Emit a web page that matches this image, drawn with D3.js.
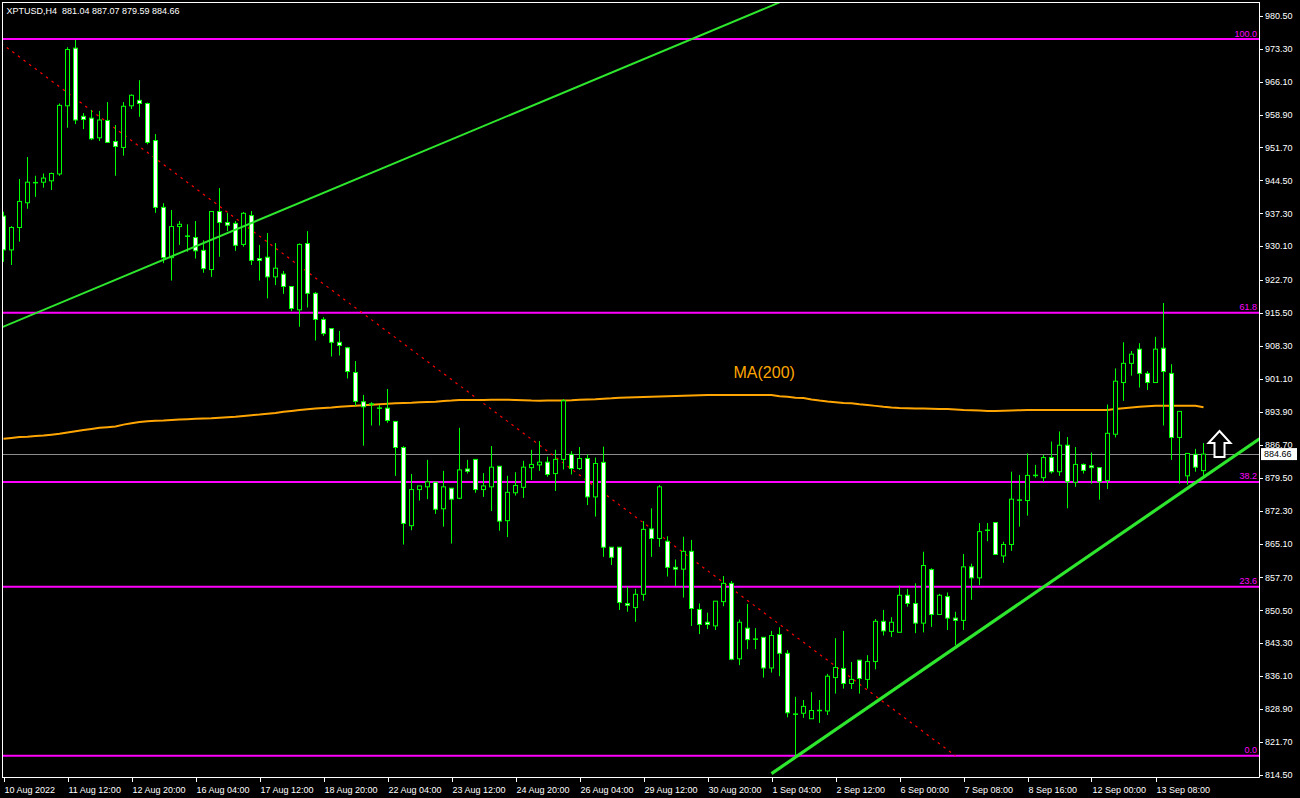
<!DOCTYPE html>
<html><head><meta charset="utf-8">
<script src="https://cdn.jsdelivr.net/npm/d3@7"></script>
<style>
html,body{margin:0;padding:0;background:#000;overflow:hidden}
svg{display:block}
text{font-family:"Liberation Sans",Arial,sans-serif}
</style>
</head><body>
<svg id="c" width="1300" height="798"></svg>
<script>
// ---------- data ----------
const symbolTitle = "XPTUSD,H4";
const lastBar = {open: 881.04, high: 887.07, low: 879.59, close: 884.66};

const opens = [936.7,929.3,934.2,939.6,944.0,944.1,944.4,945.9,960.8,973.4,
958.5,958.1,953.8,957.6,953.0,951.7,960.8,962.0,961.3,953.2,
938.6,927.6,934.4,932.3,932.0,929.2,925.0,937.7,935.3,935.1,
930.5,936.8,927.4,927.7,923.4,924.0,921.3,916.2,930.7,919.8,
914.1,912.1,909.1,907.9,902.5,896.1,895.6,894.7,894.7,891.8,
886.1,869.0,876.9,877.5,878.5,872.7,877.2,875.0,881.4,883.5,
876.9,877.5,882.0,870.1,876.2,877.4,881.7,882.3,882.9,880.4,
883.5,884.6,881.5,883.7,875.3,882.85,864.3,864.3,852.0,851.1,
854.0,868.3,866.2,865.6,859.9,859.5,863.4,850.7,847.9,847.1,
852.4,856.4,839.9,846.6,844.2,844.6,837.9,845.2,841.1,827.8,
828.0,826.8,828.6,828.5,835.8,837.8,834.5,839.6,835.4,839.3,
848.1,845.9,845.7,853.8,852.0,847.7,859.4,849.6,853.5,848.8,
848.3,860.0,857.6,868.0,869.7,862.4,864.9,874.6,874.5,880.0,
879.5,883.9,880.8,886.6,878.5,882.4,882.1,881.7,878.9,889.0,
900.3,904.5,907.6,902.3,900.3,907.8,902.3,888.3,879.9,884.6,
881.04];
const highs = [937.65,934.5,944.8,949.6,945.5,946.0,946.2,961.3,973.6,975.2,
959.2,959.9,959.7,961.6,956.6,961.6,963.3,966.4,961.5,954.6,
939.5,938.0,935.6,934.9,935.6,931.4,937.8,942.8,937.4,935.6,
937.6,937.8,930.4,933.0,930.8,924.7,921.3,930.7,933.4,920.1,
914.6,912.1,911.6,908.1,905.0,897.6,896.0,895.4,898.9,891.8,
886.4,880.3,877.7,883.4,878.6,881.0,877.2,890.4,883.4,883.5,
880.5,886.4,882.0,879.9,880.7,883.2,885.6,887.5,884.1,885.6,
896.7,885.3,886.2,884.6,883.9,886.3,864.3,864.3,855.7,855.2,
870.0,872.8,877.9,866.7,861.6,866.6,865.9,852.0,850.0,852.5,
858.0,856.9,848.5,851.9,846.6,844.6,846.0,846.8,841.8,831.6,
830.9,832.6,830.9,836.6,844.4,846.0,839.2,839.6,840.7,848.6,
850.6,849.0,855.9,855.2,856.4,863.3,859.7,854.1,854.4,850.2,
862.8,860.7,869.6,869.6,869.7,865.5,880.8,880.1,884.8,882.3,
884.5,887.4,889.6,888.4,886.2,882.6,885.0,881.7,895.5,903.4,
909.1,907.2,908.9,902.8,910.3,917.7,904.3,894.0,884.8,885.8,
887.07];
const lows = [926.7,926.0,931.1,938.3,940.9,942.9,942.4,945.5,956.0,956.8,
955.7,953.3,953.1,952.7,945.5,949.9,960.1,958.4,952.4,937.4,
926.4,922.6,930.4,928.9,927.4,924.3,923.4,927.8,933.4,929.1,
930.0,926.0,922.6,918.7,921.6,919.7,915.9,912.5,916.7,909.5,
910.5,906.0,906.2,901.2,895.2,886.5,890.9,890.9,891.5,879.9,
864.9,868.0,874.5,874.8,871.6,868.8,865.1,874.8,880.4,876.2,
875.3,872.2,867.9,866.5,875.6,875.1,879.0,881.0,879.7,876.6,
881.3,880.2,881.2,873.5,871.0,862.2,860.4,850.6,850.2,848.0,
852.6,862.2,864.4,857.9,855.8,853.3,847.1,845.3,846.4,846.2,
851.4,839.6,838.5,842.0,842.0,835.8,836.9,836.1,827.1,818.6,
827.0,826.8,825.9,827.6,832.3,833.4,833.3,832.3,833.4,837.6,
845.0,844.7,845.7,851.3,845.5,845.7,846.9,849.6,846.2,842.9,
846.2,852.8,856.0,865.6,862.7,860.9,863.5,868.8,871.2,879.5,
878.6,880.4,879.9,872.8,877.5,880.4,878.2,874.7,877.0,888.3,
896.3,901.8,899.2,898.7,900.3,890.9,883.4,878.2,878.0,880.8,
879.59];
const closes = [929.3,934.2,939.9,944.1,944.2,945.0,946.0,960.9,973.1,957.7,
957.8,953.6,957.7,952.8,951.9,960.7,963.1,961.3,952.8,938.6,
927.6,934.4,934.9,932.3,929.1,925.2,937.7,935.3,934.7,930.3,
937.3,927.0,927.0,923.4,925.3,921.3,916.5,930.5,919.8,914.1,
911.0,909.1,908.4,902.7,896.2,895.0,895.5,894.7,892.0,886.1,
869.5,876.9,877.7,878.6,872.6,877.5,874.8,881.2,880.9,876.9,
877.7,881.8,870.0,876.3,877.8,881.8,882.4,882.9,880.2,883.5,
896.3,881.5,883.7,875.3,882.6,864.3,862.1,852.2,851.6,854.0,
868.2,866.2,877.5,859.9,859.5,863.4,850.9,847.4,847.4,852.5,
856.4,839.8,847.9,844.1,844.2,837.9,845.0,841.1,828.1,827.8,
829.5,828.6,828.6,836.1,838.0,834.5,835.4,835.6,839.3,848.1,
846.0,847.9,853.8,852.0,847.7,860.3,849.6,853.8,848.8,848.3,
860.0,857.6,867.7,868.0,862.7,864.9,874.8,874.8,880.0,880.0,
883.9,880.8,886.6,878.6,882.4,881.1,881.7,878.6,889.2,900.6,
904.5,906.5,902.3,900.3,907.6,902.7,888.3,894.0,884.8,881.8,
884.66];
const ma200 = [888.0,888.2,888.4,888.45,888.6,888.7,888.9,889.1,889.4,889.65,
889.9,890.15,890.4,890.55,890.7,891.1,891.4,891.65,891.85,891.95,
892.0,892.1,892.2,892.3,892.4,892.45,892.5,892.6,892.7,892.8,
893.0,893.15,893.3,893.5,893.65,893.9,894.1,894.3,894.45,894.6,
894.75,894.85,895.0,895.1,895.2,895.35,895.45,895.55,895.65,895.75,
895.85,895.9,896.0,896.05,896.1,896.25,896.35,896.5,896.5,896.5,
896.5,896.55,896.55,896.55,896.5,896.45,896.35,896.3,896.35,896.4,
896.4,896.45,896.55,896.6,896.65,896.75,896.85,897.0,897.05,897.1,
897.15,897.2,897.25,897.3,897.35,897.4,897.45,897.5,897.55,897.6,
897.6,897.6,897.6,897.6,897.6,897.6,897.6,897.3,897.2,897.0,
896.9,896.6,896.35,896.15,896.0,895.85,895.75,895.55,895.4,895.2,
895.0,894.85,894.75,894.7,894.65,894.6,894.55,894.5,894.5,894.4,
894.3,894.25,894.2,894.1,894.1,894.15,894.2,894.25,894.3,894.3,
894.3,894.3,894.3,894.3,894.3,894.3,894.3,894.3,894.3,894.5,
894.7,894.85,895.0,895.1,895.2,895.25,895.25,895.25,895.25,895.2,
894.9];

const timeLabels = ["10 Aug 2022","11 Aug 12:00","12 Aug 20:00","16 Aug 04:00","17 Aug 12:00",
"18 Aug 20:00","22 Aug 04:00","23 Aug 12:00","24 Aug 20:00","26 Aug 04:00","29 Aug 12:00",
"30 Aug 20:00","1 Sep 04:00","2 Sep 12:00","6 Sep 00:00","7 Sep 08:00","8 Sep 16:00",
"12 Sep 00:00","13 Sep 08:00"];
const timeLabelBars = [0,8,16,24,32,40,48,56,64,72,80,88,96,104,112,120,128,136,144];
const priceTicks = [980.50,973.30,966.10,958.90,951.70,944.50,937.30,930.10,922.70,915.50,
908.30,901.10,893.90,886.70,879.50,872.30,865.10,857.70,850.50,843.30,836.10,828.90,821.70,814.50];

const fibLevels = [100.0, 61.8, 38.2, 23.6, 0.0];
const fibHigh = 975.4, fibLow = 818.7;
const fibDiagonal = [[-1, 975.4], [119, 818.7]];
const trendUpper = [[-1, 911.8], [97, 983.4]];
const trendSupport = [[96, 814.8], [157, 888.0]];
const maLabel = {text: "MA(200)", bar: 91.25, price: 901.3};
const arrowMark = {bar: 152, price: 889.7};

// ---------- layout ----------
const W = 1300, H = 798;
const plot = {left: 2, top: 2, right: 1259, bottom: 777};
const x = d3.scaleLinear().domain([0, 150]).range([3.5, 1203.5]);
const y = d3.scaleLinear().domain([814.5, 980.5]).range([775, 15.7]);

const svg = d3.select("#c");
svg.append("rect").attr("width", W).attr("height", H).attr("fill", "#000");

const defs = svg.append("defs");
defs.append("clipPath").attr("id", "plotClip").append("rect")
  .attr("x", plot.left).attr("y", plot.top)
  .attr("width", plot.right - plot.left).attr("height", plot.bottom - plot.top);

const g = svg.append("g").attr("clip-path", "url(#plotClip)");

// fib levels
const fibPrice = l => fibLow + (fibHigh - fibLow) * l / 100;
g.selectAll(".fib").data(fibLevels).join("line")
  .attr("x1", plot.left).attr("x2", plot.right)
  .attr("y1", d => y(fibPrice(d))).attr("y2", d => y(fibPrice(d)))
  .attr("stroke", "#ff00ff").attr("stroke-width", 2);

// current price line
g.append("line").attr("x1", plot.left).attr("x2", plot.right)
  .attr("y1", Math.round(y(lastBar.close)) + 0.5).attr("y2", Math.round(y(lastBar.close)) + 0.5)
  .attr("stroke", "#8c8c8c").attr("stroke-width", 1);

// fib diagonal (red dotted)
g.append("line")
  .attr("x1", x(fibDiagonal[0][0])).attr("y1", y(fibDiagonal[0][1]))
  .attr("x2", x(fibDiagonal[1][0])).attr("y2", y(fibDiagonal[1][1]))
  .attr("stroke", "#ff0000").attr("stroke-width", 1.2).attr("stroke-dasharray", "2.5,4.5");

// MA(200)
const maLine = d3.line().x((d, i) => x(i)).y(d => y(d));
g.append("path").datum(ma200).attr("d", maLine)
  .attr("fill", "none").attr("stroke", "#ffa500").attr("stroke-width", 2);

// candles
const idx = d3.range(opens.length);
const cg = g.append("g");
cg.selectAll(".wick").data(idx).join("line")
  .attr("x1", i => x(i)).attr("x2", i => x(i))
  .attr("y1", i => y(highs[i])).attr("y2", i => y(lows[i]))
  .attr("stroke", "#00ff00").attr("stroke-width", 1);
cg.selectAll(".body").data(idx.filter(i => Math.abs(y(opens[i]) - y(closes[i])) >= 1)).join("rect")
  .attr("x", i => x(i) - 2)
  .attr("y", i => y(Math.max(opens[i], closes[i])))
  .attr("width", 4)
  .attr("height", i => Math.abs(y(opens[i]) - y(closes[i])))
  .attr("fill", i => closes[i] >= opens[i] ? "#000" : "#fff")
  .attr("stroke", "#00ff00").attr("stroke-width", 1);
cg.selectAll(".doji").data(idx.filter(i => Math.abs(y(opens[i]) - y(closes[i])) < 1)).join("line")
  .attr("x1", i => x(i) - 2.5).attr("x2", i => x(i) + 2.5)
  .attr("y1", i => y(opens[i])).attr("y2", i => y(opens[i]))
  .attr("stroke", "#00ff00").attr("stroke-width", 1.5);

// trend lines
g.append("line")
  .attr("x1", x(trendUpper[0][0])).attr("y1", y(trendUpper[0][1]))
  .attr("x2", x(trendUpper[1][0])).attr("y2", y(trendUpper[1][1]))
  .attr("stroke", "#2ee62e").attr("stroke-width", 2);
g.append("line")
  .attr("x1", x(trendSupport[0][0])).attr("y1", y(trendSupport[0][1]))
  .attr("x2", x(trendSupport[1][0])).attr("y2", y(trendSupport[1][1]))
  .attr("stroke", "#2ee62e").attr("stroke-width", 3.2);

// fib labels
g.selectAll(".fibt").data(fibLevels).join("text")
  .attr("x", plot.right - 2).attr("y", d => y(fibPrice(d)) - 2.5)
  .attr("text-anchor", "end").attr("font-size", 9).attr("fill", "#ff00ff")
  .text(d => d.toFixed(1));

// MA label
g.append("text").attr("x", x(maLabel.bar)).attr("y", y(maLabel.price))
  .attr("font-size", 16).attr("fill", "#ffa500").text(maLabel.text);

// arrow
const ax = x(arrowMark.bar), ay = y(arrowMark.price);
const arrowPts = [[0,0],[11,12],[5,12],[5,26],[-5,26],[-5,12],[-11,12]];
g.append("path")
  .attr("d", "M" + arrowPts.map(p => [ax + p[0], ay + p[1]].join(",")).join("L") + "Z")
  .attr("fill", "#000").attr("stroke", "#fff").attr("stroke-width", 2)
  .attr("stroke-linejoin", "miter");

// frame
svg.append("line").attr("x1", plot.left + 0.5).attr("x2", plot.left + 0.5)
  .attr("y1", plot.top).attr("y2", plot.bottom).attr("stroke", "#fff");
svg.append("line").attr("x1", plot.left).attr("x2", plot.right + 0.5)
  .attr("y1", plot.top + 0.5).attr("y2", plot.top + 0.5).attr("stroke", "#fff");
svg.append("line").attr("x1", plot.right + 0.5).attr("x2", plot.right + 0.5)
  .attr("y1", plot.top).attr("y2", plot.bottom + 0.5).attr("stroke", "#fff");
svg.append("line").attr("x1", plot.left).attr("x2", plot.right + 0.5)
  .attr("y1", plot.bottom + 0.5).attr("y2", plot.bottom + 0.5).attr("stroke", "#fff");

// price axis
const ya = svg.append("g");
ya.selectAll("line").data(priceTicks).join("line")
  .attr("x1", plot.right).attr("x2", plot.right + 4)
  .attr("y1", d => Math.round(y(d)) + 0.5).attr("y2", d => Math.round(y(d)) + 0.5)
  .attr("stroke", "#fff");
ya.selectAll("text").data(priceTicks).join("text")
  .attr("x", plot.right + 6).attr("y", d => y(d) + 3.2)
  .attr("font-size", 9).attr("fill", "#fff")
  .text(d => d.toFixed(2));

// last price box
const lpY = y(lastBar.close);
svg.append("rect").attr("x", plot.right + 2).attr("y", lpY - 6)
  .attr("width", 36).attr("height", 12).attr("fill", "#fff");
svg.append("text").attr("x", plot.right + 5).attr("y", lpY + 3.3)
  .attr("font-size", 9).attr("fill", "#000").text(lastBar.close.toFixed(2));

// time axis
const xa = svg.append("g");
xa.selectAll("line").data(timeLabelBars).join("line")
  .attr("x1", b => Math.round(x(b)) + 0.5).attr("x2", b => Math.round(x(b)) + 0.5)
  .attr("y1", plot.bottom).attr("y2", plot.bottom + 5)
  .attr("stroke", "#fff");
xa.selectAll("text").data(timeLabelBars).join("text")
  .attr("x", b => x(b) + 1).attr("y", 793)
  .attr("font-size", 9).attr("fill", "#fff")
  .text((b, i) => timeLabels[i]);

// header
svg.append("text").attr("x", 6.5).attr("y", 14)
  .attr("font-size", 9).attr("fill", "#fff").attr("xml:space", "preserve")
  .style("white-space", "pre")
  .text(symbolTitle + "  " + [lastBar.open, lastBar.high, lastBar.low, lastBar.close].map(v => v.toFixed(2)).join(" "));
</script>
</body></html>
